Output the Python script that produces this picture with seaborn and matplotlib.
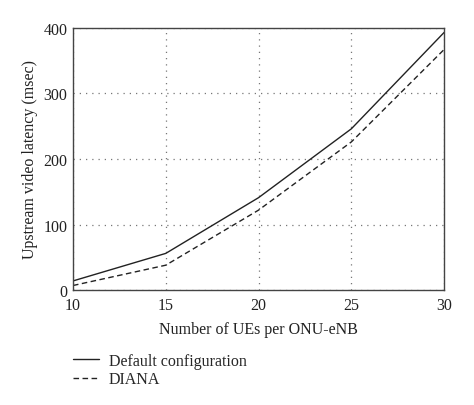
import matplotlib
matplotlib.use("Agg")
import matplotlib.pyplot as plt
import seaborn as sns
import pandas as pd

ues = [10, 15, 20, 25, 30]
default_latency = [14, 56, 141, 246, 393]
diana_latency = [7, 38, 122, 226, 367]
series_names = ["Default configuration", "DIANA"]

df = pd.DataFrame({
    "ues": ues * 2,
    "latency": default_latency + diana_latency,
    "scheme": [series_names[0]] * len(ues) + [series_names[1]] * len(ues),
})

sns.set_style("white")
plt.rcParams['font.family'] = ['Liberation Serif', 'DejaVu Serif']

fig = plt.figure(figsize=(4.74, 4.06), dpi=100)
ax = fig.add_axes([0.154, 0.283, 0.783, 0.646])

sns.lineplot(data=df, x="ues", y="latency", hue="scheme", style="scheme",
             palette=["#222222", "#222222"], dashes=[(None, None), (4, 2.5)],
             linewidth=1.0, ax=ax)

ax.set_xlim(10, 30)
ax.set_ylim(0, 400)
ax.set_xticks([10, 15, 20, 25, 30])
ax.set_yticks([0, 100, 200, 300, 400])
ax.grid(True, linestyle=(0, (1, 4)), color="#777777", linewidth=0.9)
for s in ax.spines.values():
    s.set_color("#444444")
    s.set_linewidth(1.0)
ax.tick_params(direction="in", length=3, labelsize=11.5, colors="#222222")
ax.tick_params(axis="x", pad=5)
ax.tick_params(axis="y", pad=4)
ax.set_xlabel("Number of UEs per ONU-eNB", fontsize=11.5, color="#222222", labelpad=6)
ax.set_ylabel("Upstream video latency (msec)", fontsize=11.5, color="#222222", labelpad=4)

handles, labels = ax.get_legend_handles_labels()
ax.legend(handles, labels, loc="upper left", bbox_to_anchor=(0.0, -0.24),
          frameon=False, fontsize=11.5, handlelength=1.65, handletextpad=0.6,
          labelspacing=0.15, borderaxespad=0, borderpad=0)

fig.savefig("out.png", dpi=100)
